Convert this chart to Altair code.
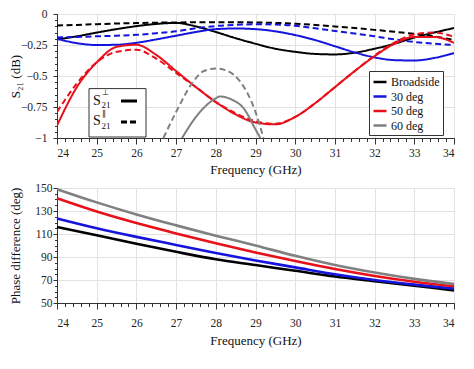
import altair as alt
import pandas as pd

# ---------------- data ----------------
F_TOP = [24, 24.5, 25, 25.5, 26, 26.5, 27, 27.5, 28, 28.5, 29, 29.5,
         30, 30.5, 31, 31.5, 32, 32.5, 33, 33.5, 34]
BROAD_PERP = [-0.205, -0.18, -0.15, -0.122, -0.098, -0.08, -0.072, -0.1, -0.145, -0.195, -0.24,
              -0.28, -0.305, -0.322, -0.326, -0.312, -0.28, -0.24, -0.19, -0.15, -0.113]
BROAD_PAR = [-0.093, -0.088, -0.082, -0.077, -0.073, -0.07, -0.068, -0.067, -0.066, -0.066, -0.068,
             -0.072, -0.078, -0.088, -0.1, -0.113, -0.128, -0.143, -0.16, -0.18, -0.21]
D30_PERP = [-0.2, -0.235, -0.25, -0.248, -0.232, -0.205, -0.175, -0.145, -0.122, -0.117, -0.122,
            -0.14, -0.17, -0.21, -0.26, -0.31, -0.35, -0.372, -0.375, -0.355, -0.315]
D30_PAR = [-0.19, -0.185, -0.18, -0.175, -0.168, -0.155, -0.14, -0.115, -0.097, -0.088, -0.083,
           -0.085, -0.095, -0.115, -0.137, -0.158, -0.18, -0.205, -0.226, -0.24, -0.25]
D50_PERP = [-0.9, -0.59, -0.39, -0.265, -0.248, -0.33, -0.46, -0.59, -0.71, -0.81, -0.875,
            -0.89, -0.83, -0.72, -0.59, -0.46, -0.34, -0.24, -0.185, -0.185, -0.233]
D50_PAR = [-0.79, -0.56, -0.39, -0.305, -0.288, -0.36, -0.475, -0.59, -0.71, -0.8, -0.865,
           -0.885, -0.83, -0.72, -0.59, -0.46, -0.335, -0.23, -0.165, -0.15, -0.183]
F60_PERP = [27.15, 27.5, 28.0, 28.1, 28.4, 28.7, 29.0, 29.12]
D60_PERP = [-1.0, -0.83, -0.68, -0.665, -0.69, -0.76, -0.93, -1.0]
F60_PAR = [26.68, 27.0, 27.4, 27.7, 28.0, 28.3, 28.6, 28.8, 29.0, 29.2]
D60_PAR = [-1.0, -0.79, -0.56, -0.46, -0.44, -0.46, -0.54, -0.64, -0.79, -1.0]

F_BOT = [24, 25, 26, 27, 28, 29, 30, 31, 32, 33, 34]
PH_BROAD = [116, 109, 101.5, 94.5, 88, 83, 78, 73, 69, 65, 61]
PH_30 = [123.5, 115, 107.5, 100.5, 93.5, 87, 81, 75, 70, 66, 62.5]
PH_50 = [141, 129.5, 119.5, 110.5, 102, 94, 86.5, 79.5, 73.5, 68.5, 64.5]
PH_60 = [149, 137.5, 127, 117.5, 108.5, 100, 91, 83, 76.5, 71, 66.5]

SERIES = ["Broadside", "30 deg", "50 deg", "60 deg"]
COLORS = ["#000000", "#1414dc", "#e8101a", "#808080"]

X_MAJOR = [24, 25, 26, 27, 28, 29, 30, 31, 32, 33, 34]
X_MINOR = [round(24 + 0.2 * i, 1) for i in range(51)]
Y_TOP_MAJOR = [-1, -0.75, -0.5, -0.25, 0]
Y_TOP_MINOR = [round(-1 + 0.05 * i, 2) for i in range(21)]
Y_BOT_MAJOR = [50, 70, 90, 110, 130, 150]
Y_BOT_MINOR = [50 + 5 * i for i in range(21)]

# ---------------- tables ----------------
rows = []
def add(fs, vs, s, p):
    for f, v in zip(fs, vs):
        rows.append({"f": f, "v": v, "series": s, "pol": p})
add(F_TOP, BROAD_PERP, "Broadside", "perp")
add(F_TOP, BROAD_PAR, "Broadside", "par")
add(F_TOP, D30_PERP, "30 deg", "perp")
add(F_TOP, D30_PAR, "30 deg", "par")
add(F_TOP, D50_PERP, "50 deg", "perp")
add(F_TOP, D50_PAR, "50 deg", "par")
add(F60_PERP, D60_PERP, "60 deg", "perp")
add(F60_PAR, D60_PAR, "60 deg", "par")
top_df = pd.DataFrame(rows)

brows = []
for s, vals in zip(SERIES, [PH_BROAD, PH_30, PH_50, PH_60]):
    for f, v in zip(F_BOT, vals):
        brows.append({"f": f, "v": v, "series": s})
bot_df = pd.DataFrame(brows)

W = 397
H_TOP = 124
H_BOT = 115
FONT = "Liberation Serif"
AX = "#333333"

xs = alt.Scale(domain=[24, 34], nice=False, zero=False)
ys_top = alt.Scale(domain=[-1, 0], nice=False, zero=False)
ys_bot = alt.Scale(domain=[50, 150], nice=False, zero=False)
cscale = alt.Scale(domain=SERIES, range=COLORS)

def major_x(label_pad, title_pad):
    return alt.Axis(values=X_MAJOR, format="d", tickSize=6, labelPadding=label_pad,
                    title="Frequency (GHz)", titlePadding=title_pad, grid=True)

minor_x = alt.Axis(values=X_MINOR, labels=False, domain=False, grid=False, tickSize=3.5,
                   title=None, orient="bottom")

# ---------------- top panel ----------------
lines_top = alt.Chart(top_df).mark_line(strokeWidth=2, interpolate="monotone", clip=True).encode(
    x=alt.X("f:Q", scale=xs, axis=major_x(3, 5)),
    y=alt.Y("v:Q", scale=ys_top,
            axis=alt.Axis(values=Y_TOP_MAJOR, tickSize=4, labelPadding=6, grid=True,
                          title="S₂₁ (dB)", titleX=-42, titleY=H_TOP / 2,
                          titleBaseline="middle",
                          labelExpr="datum.value == 0 ? '0' : format(datum.value, '.3~f')")),
    color=alt.Color("series:N", scale=cscale,
                    legend=alt.Legend(title=None, orient="none", legendX=312, legendY=57,
                                      symbolType="stroke", symbolSize=169, symbolStrokeWidth=2.5,
                                      labelFontSize=12, labelFont=FONT, labelColor="#111",
                                      padding=3, strokeColor="#333", fillColor="white",
                                      rowPadding=0.5, labelOffset=3)),
    strokeDash=alt.StrokeDash("pol:N", scale=alt.Scale(domain=["perp", "par"],
                                                        range=[[1, 0], [6, 3.5]]), legend=None),
)

minor_top = alt.Chart(top_df).mark_point(opacity=0).encode(
    x=alt.X("f:Q", scale=xs, axis=minor_x),
    y=alt.Y("v:Q", scale=ys_top, axis=alt.Axis(values=Y_TOP_MINOR, labels=False, domain=False,
                                               grid=False, tickSize=2.5, title=None, orient="left")),
)

one = pd.DataFrame({"k": [0]})
leg_box = alt.Chart(one).mark_rect(fill="white", stroke="#333", strokeWidth=1).encode(
    x=alt.value(32), x2=alt.value(89), y=alt.value(74.6), y2=alt.value(123))

def txt(t, x, y, size):
    return alt.Chart(one).mark_text(text=t, font=FONT, fontSize=size, align="left",
                                    baseline="middle", color="#111").encode(
        x=alt.value(x), y=alt.value(y))

def rule(y, dash):
    return alt.Chart(one).mark_rule(color="black", strokeWidth=3, strokeDash=dash).encode(
        x=alt.value(64), x2=alt.value(80), y=alt.value(y))

s_legend = [leg_box,
            txt("S", 36, 86.7, 14), txt("21", 44.5, 91, 9), txt("⊥", 44.5, 79, 8),
            rule(87, [1, 0]),
            txt("S", 36, 107.2, 14), txt("21", 44.5, 112, 9), txt("∥", 45, 99.8, 8),
            rule(108.1, [6, 3])]

top = alt.layer(lines_top, minor_top, *s_legend).resolve_axis(
    x="independent", y="independent").properties(width=W, height=H_TOP)

# ---------------- bottom panel ----------------
lines_bot = alt.Chart(bot_df).mark_line(strokeWidth=2.6, interpolate="monotone").encode(
    x=alt.X("f:Q", scale=xs, axis=major_x(8, 6)),
    y=alt.Y("v:Q", scale=ys_bot,
            axis=alt.Axis(values=Y_BOT_MAJOR, tickSize=4, labelPadding=1, grid=True,
                          title="Phase difference (deg)", titleX=-42, titleY=H_BOT / 2,
                          titleBaseline="middle")),
    color=alt.Color("series:N", scale=cscale, legend=None),
)
minor_bot = alt.Chart(bot_df).mark_point(opacity=0).encode(
    x=alt.X("f:Q", scale=xs, axis=minor_x),
    y=alt.Y("v:Q", scale=ys_bot, axis=alt.Axis(values=Y_BOT_MINOR, labels=False, domain=False,
                                               grid=False, tickSize=2.5, title=None, orient="left")),
)
bottom = alt.layer(lines_bot, minor_bot).resolve_axis(
    x="independent", y="independent").properties(width=W, height=H_BOT)

chart = alt.vconcat(top, bottom, spacing=5).resolve_scale(color="independent").properties(
    padding=0
).configure(font=FONT).configure_view(stroke=None).configure_axis(
    labelFont=FONT, titleFont=FONT, labelFontSize=11.5, titleFontSize=13,
    titleFontWeight="normal", labelColor="#222", titleColor="#111",
    domainColor=AX, tickColor=AX, gridColor="#e2e2e2", gridWidth=1,
)

chart.save("out.html", embed_options={"renderer": "svg", "actions": False})
